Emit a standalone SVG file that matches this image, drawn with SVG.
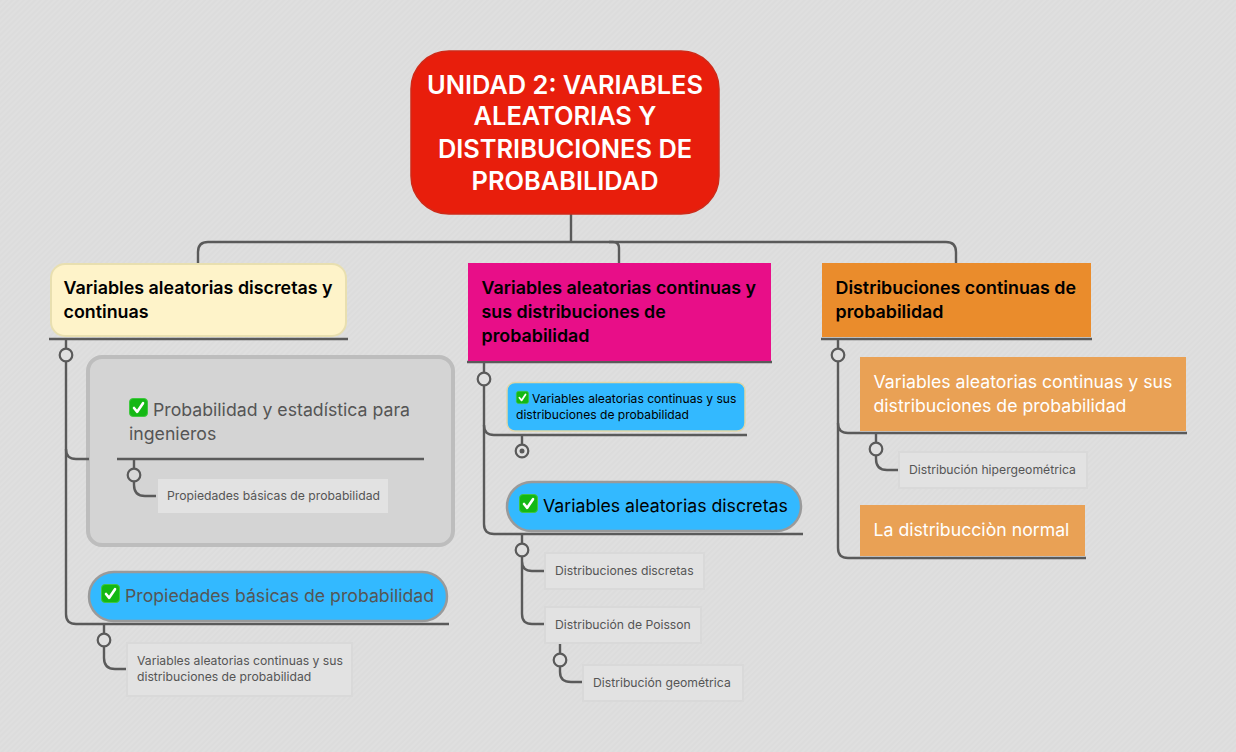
<svg xmlns="http://www.w3.org/2000/svg" width="1236" height="752" viewBox="0 0 1236 752">
<style>
text{font-family:"Inter","Noto Sans",sans-serif}
.c{fill:none;stroke:#5a5a5a;stroke-width:2.4;stroke-linecap:butt}
.o{fill:#e0e0e0;stroke:#5a5a5a;stroke-width:2.2}
.d{fill:#5a5a5a;stroke:none}
.t1{font-size:25.4px;font-weight:600;fill:#fff;text-anchor:middle}
.t2{font-size:17.85px;font-weight:600;fill:#000}
.t3{font-size:17.7px;fill:#555}
.t4{font-size:17.7px;fill:#000}
.t5{font-size:12.1px;fill:#000}
.t6{font-size:12.2px;fill:#555}
.t7{font-size:17.7px;fill:#fff}
.s{fill:#e2e2e2;stroke:#d9d9d9;stroke-width:2}
.or{fill:#e9a155}
.ck{fill:#14b814;stroke:#3fc83f;stroke-width:1}
.cm{fill:none;stroke:#fff;stroke-linecap:round;stroke-linejoin:round}
</style>
<defs>
<pattern id="bg" width="4" height="4" patternUnits="userSpaceOnUse" patternTransform="rotate(45)">
<rect width="4" height="4" fill="#dfdfdf"/><rect width="2" height="4" fill="#dcdcdc"/>
</pattern>
<g id="check"><rect x=".5" y=".5" width="18" height="18" rx="3.5" class="ck"/><path d="M5 10l3.2 3.8 5.8-8.6" class="cm" stroke-width="2.6"/></g>
</defs>
<rect width="1236" height="752" fill="url(#bg)"/>
<g id="n1a"><rect x="88" y="357" width="365" height="188" rx="14" fill="#d4d4d4" stroke="#bdbdbd" stroke-width="4"/>
<use href="#check" x="129" y="398"/>
<text class="t3" x="153" y="416">Probabilidad y estadística para</text><text class="t3" x="129" y="440">ingenieros</text></g>
<g id="connectors">
<path class="c" d="M571 214V242"/>
<path class="c" d="M198 263V252Q198 242 208 242H946Q956 242 956 252V263"/>
<path class="c" d="M609 242H613Q619 242 619 248V263"/>
<path class="c" d="M49 339H348M66 339V614Q66 624 76 624H449"/>
<path class="c" d="M66 449Q66 459 76 459H89"/>
<path class="c" d="M117 459H424M134 459V485Q134 496 145 496H156"/>
<path class="c" d="M104 624V658Q104 669 115 669H126"/>
<path class="c" d="M467 362H772M484 362V524Q484 534 494 534H803"/>
<path class="c" d="M484 425Q484 435 494 435H747M522 435V451"/>
<path class="c" d="M522 534V614Q522 624 532 624H544M522 561Q522 571 532 571H544"/>
<path class="c" d="M560 644V672Q560 682 571 682H582"/>
<path class="c" d="M821 339H1092M838 339V548Q838 558 848 558H1086"/>
<path class="c" d="M838 423Q838 433 848 433H1187"/>
<path class="c" d="M876 433V459Q876 470 887 470H898"/>
<circle class="o" cx="66" cy="355" r="6.3"/>
<circle class="o" cx="134" cy="475" r="6.3" style="fill:#d8d8d8"/>
<circle class="o" cx="104" cy="640" r="6.3"/>
<circle class="o" cx="484" cy="379" r="6.3"/>
<circle class="o" cx="522" cy="451" r="6.3"/><circle class="d" cx="522" cy="451" r="2.5"/>
<circle class="o" cx="522" cy="550" r="6.3"/>
<circle class="o" cx="560" cy="660" r="6.3"/>
<circle class="o" cx="838" cy="355" r="6.3"/>
<circle class="o" cx="876" cy="449" r="6.3"/>
</g>
<g id="root"><rect x="411" y="51" width="308" height="163" rx="38" fill="#e81e0c" stroke="#cf2a18" stroke-width="1.5"/>
<text class="t1" x="565" y="94">UNIDAD 2: VARIABLES</text><text class="t1" x="565" y="125">ALEATORIAS Y</text><text class="t1" x="565" y="158">DISTRIBUCIONES DE</text><text class="t1" x="565" y="190">PROBABILIDAD</text></g>
<g id="n1"><rect x="51" y="264" width="295" height="72" rx="14" fill="#fef3c9" stroke="#e8dfb0" stroke-width="2"/>
<text class="t2" x="63.5" y="294">Variables aleatorias discretas y</text><text class="t2" x="63.5" y="318">continuas</text></g>
<g id="n1a1"><rect x="158" y="479" width="230" height="34" fill="#e2e2e2"/><text class="t6" x="167" y="500">Propiedades básicas de probabilidad</text></g>
<g id="n1b"><rect x="89" y="572" width="358" height="49" rx="24.5" fill="#33b9ff" stroke="#9a9a9a" stroke-width="2.5"/>
<use href="#check" x="101" y="584"/>
<text class="t3" x="125" y="602">Propiedades básicas de probabilidad</text></g>
<g id="n1b1"><rect class="s" x="127" y="643" width="225" height="53"/><text class="t6" x="137" y="665">Variables aleatorias continuas y sus</text><text class="t6" x="137" y="681">distribuciones de probabilidad</text></g>
<g id="n2"><rect x="468" y="263" width="303" height="98" fill="#e80e88"/>
<text class="t2" x="481.5" y="294">Variables aleatorias continuas y</text><text class="t2" x="481.5" y="318">sus distribuciones de</text><text class="t2" x="481.5" y="342">probabilidad</text></g>
<g id="n2a"><rect x="507" y="382.500" width="238" height="48.500" rx="8" fill="#33b9ff" stroke="#e0d6a8" stroke-width="1.5"/>
<use href="#check" transform="translate(516 391) scale(.68)"/>
<text class="t5" x="532" y="403">Variables aleatorias continuas y sus</text><text class="t5" x="516" y="419">distribuciones de probabilidad</text></g>
<g id="n2b"><rect x="507" y="482" width="294" height="49" rx="24.5" fill="#33b9ff" stroke="#9a9a9a" stroke-width="2.5"/>
<use href="#check" x="519" y="494"/>
<text class="t4" x="543" y="512">Variables aleatorias discretas</text></g>
<g id="n2b1"><rect class="s" x="545" y="553" width="159" height="36"/><text class="t6" x="555" y="575">Distribuciones discretas</text></g>
<g id="n2b2"><rect class="s" x="545" y="607" width="156" height="36"/><text class="t6" x="555" y="629">Distribución de Poisson</text></g>
<g id="n2b3"><rect class="s" x="583" y="665" width="160" height="36"/><text class="t6" x="593" y="687">Distribución geométrica</text></g>
<g id="n3"><rect x="822" y="263" width="269" height="74" fill="#ea8c2c"/>
<text class="t2" x="835.5" y="294">Distribuciones continuas de</text><text class="t2" x="835.5" y="318">probabilidad</text></g>
<g id="n3a"><rect class="or" x="860" y="357" width="326" height="74"/>
<text class="t7" x="873.500" y="388">Variables aleatorias continuas y sus</text><text class="t7" x="873.500" y="412">distribuciones de probabilidad</text></g>
<g id="n3a1"><rect class="s" x="899" y="452" width="188" height="36"/><text class="t6" x="909" y="474">Distribución hipergeométrica</text></g>
<g id="n3b"><rect class="or" x="860" y="505" width="225" height="51"/><text class="t7" x="873.500" y="536">La distribucciòn normal</text></g>
</svg>
